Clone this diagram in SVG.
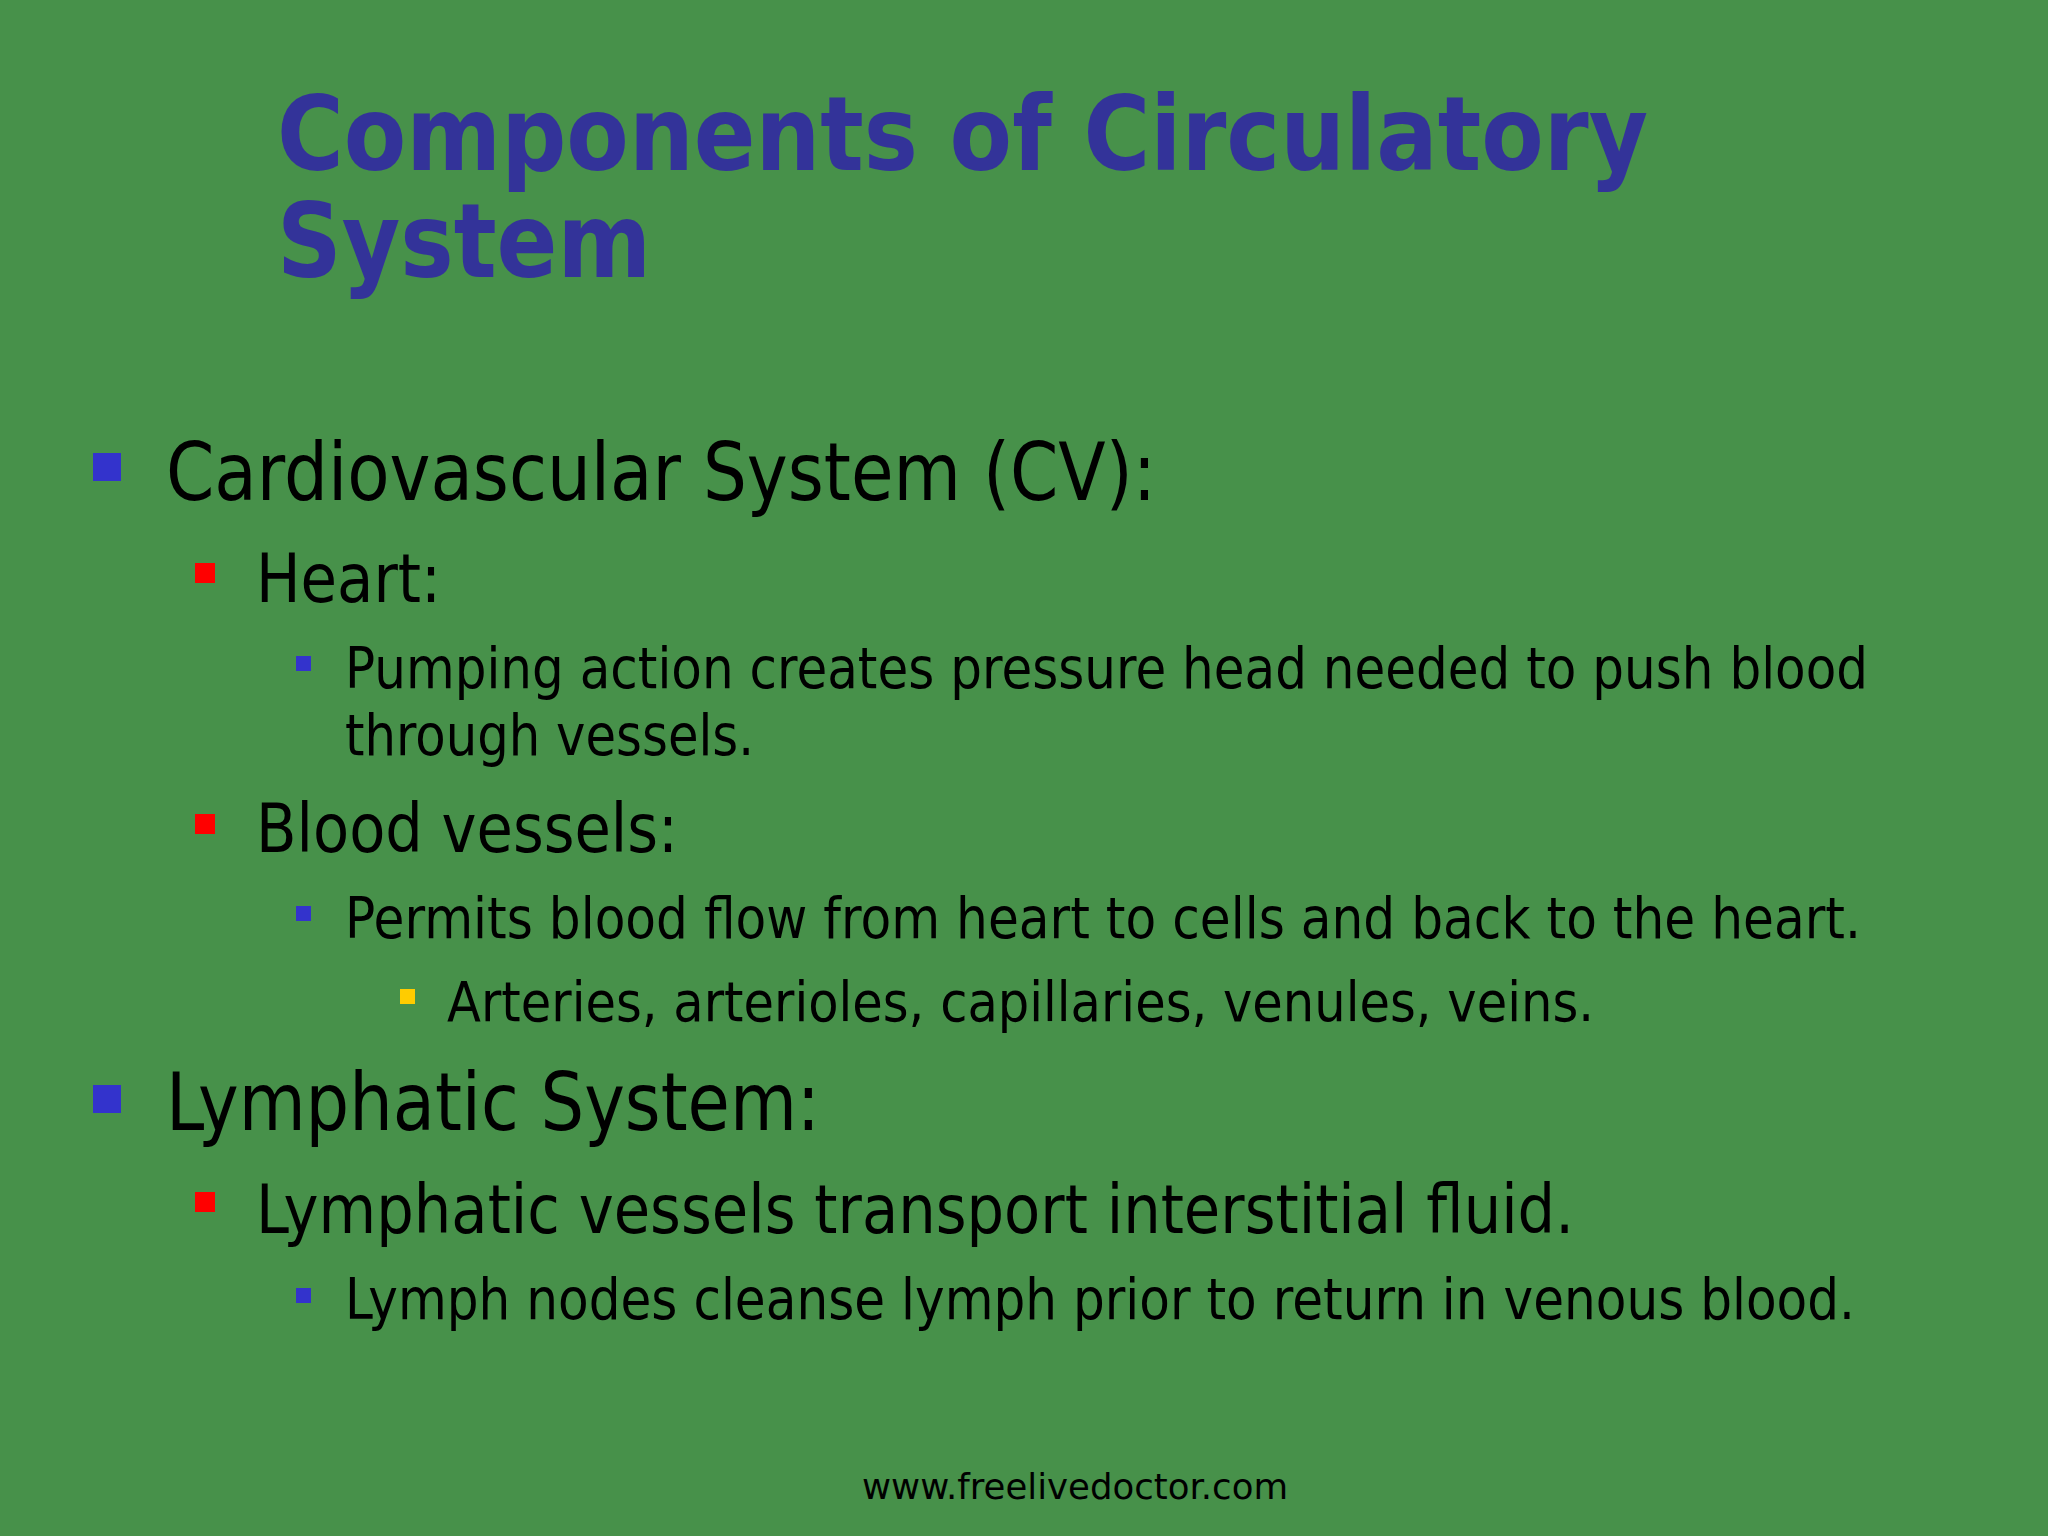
<svg xmlns="http://www.w3.org/2000/svg" width="2048" height="1536" viewBox="0 0 2048 1536">
<style>
.t{font-family:"DejaVu Sans",Verdana,sans-serif;font-weight:bold;fill:#333399;font-size:104px}
.b{font-family:"DejaVu Sans",Tahoma,sans-serif;fill:#000}
.l1{font-size:80px}.l2{font-size:68px}.l3{font-size:57px}.l4{font-size:55px}
.f{font-family:"DejaVu Sans",Tahoma,sans-serif;font-size:36px;fill:#000}
</style>
<rect width="2048" height="1536" fill="#47914A"/>
<g id="title">
<text class="t" x="277" y="170" textLength="1371" lengthAdjust="spacingAndGlyphs">Components of Circulatory</text>
<text class="t" x="277" y="277" textLength="374" lengthAdjust="spacingAndGlyphs">System</text>
</g>
<g id="cv">
<rect x="93" y="453" width="28" height="28" fill="#3333CC"/>
<text class="b l1" x="166" y="500" textLength="990" lengthAdjust="spacingAndGlyphs">Cardiovascular System (CV):</text>
</g>
<g id="heart">
<rect x="195" y="563" width="20" height="20" fill="#FF0000"/>
<text class="b l2" x="256" y="602" textLength="185" lengthAdjust="spacingAndGlyphs">Heart:</text>
</g>
<g id="pumping">
<rect x="296" y="656" width="15" height="15" fill="#3333CC"/>
<text class="b l3" x="345" y="688" textLength="1523" lengthAdjust="spacingAndGlyphs">Pumping action creates pressure head needed to push blood</text>
<text class="b l3" x="345" y="755" textLength="409" lengthAdjust="spacingAndGlyphs">through vessels.</text>
</g>
<g id="vessels">
<rect x="195" y="814" width="20" height="20" fill="#FF0000"/>
<text class="b l2" x="256" y="852" textLength="422" lengthAdjust="spacingAndGlyphs">Blood vessels:</text>
</g>
<g id="permits">
<rect x="296" y="906" width="15" height="15" fill="#3333CC"/>
<text class="b l3" x="345" y="938" textLength="1516" lengthAdjust="spacingAndGlyphs">Permits blood flow from heart to cells and back to the heart.</text>
</g>
<g id="arteries">
<rect x="400" y="989" width="15" height="15" fill="#FFCC00"/>
<text class="b l4" x="447" y="1021" textLength="1147" lengthAdjust="spacingAndGlyphs">Arteries, arterioles, capillaries, venules, veins.</text>
</g>
<g id="lymph">
<rect x="93" y="1085" width="28" height="28" fill="#3333CC"/>
<text class="b l1" x="166" y="1130" textLength="654" lengthAdjust="spacingAndGlyphs">Lymphatic System:</text>
</g>
<g id="lymphvessels">
<rect x="195" y="1192" width="20" height="20" fill="#FF0000"/>
<text class="b l2" x="256" y="1233" textLength="1318" lengthAdjust="spacingAndGlyphs">Lymphatic vessels transport interstitial fluid.</text>
</g>
<g id="nodes">
<rect x="296" y="1288" width="15" height="15" fill="#3333CC"/>
<text class="b l3" x="345" y="1319" textLength="1510" lengthAdjust="spacingAndGlyphs">Lymph nodes cleanse lymph prior to return in venous blood.</text>
</g>
<g id="footer">
<text class="f" x="862" y="1499" textLength="426" lengthAdjust="spacingAndGlyphs">www.freelivedoctor.com</text>
</g>
<g id="connectors"/>
</svg>
